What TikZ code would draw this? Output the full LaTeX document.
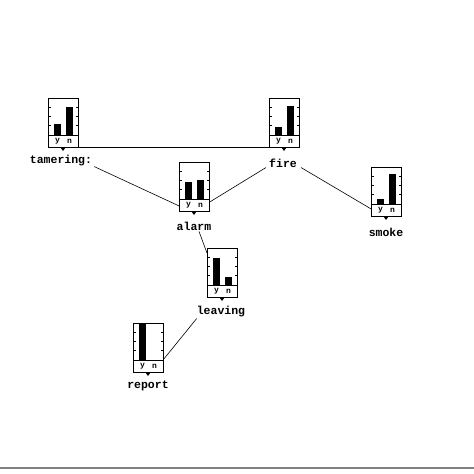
\documentclass[tikz,border=0pt]{standalone}
\usepackage{fontspec}
\newfontfamily\labfont{Liberation Mono}
\usetikzlibrary{calc}
\tikzset{
  bnframe/.style={draw, line width=0.9pt, minimum width=30pt, minimum height=49pt, inner sep=0pt, anchor=north west},
  lab/.style={font=\labfont\bfseries\fontsize{11.5}{11.5}\selectfont, inner sep=1pt},
  yn/.style={font=\labfont\bfseries\fontsize{8}{8}\selectfont, inner sep=0pt},
  link/.style={line width=0.6pt},
  hlink/.style={line width=0.9pt},
}
% #1 name, #2 left, #3 top, #4 y fraction, #5 n fraction
\newcommand\bnbox[5]{%
  \node[bnframe] (#1) at (#2,#3) {};
  \draw[line width=0.9pt] (#2,#3+37) -- (#2+30,#3+37);
  \foreach \k in {1,2,3}{
    \draw[line width=0.6pt] (#2,{#3+37-9.25*\k}) -- ++(2.5,0);
    \draw[line width=0.6pt] (#2+30,{#3+37-9.25*\k}) -- ++(-2.5,0);
  }
  \fill (#2+6,#3+37) rectangle (#2+13,{#3+37-36*#4});
  \fill (#2+18,#3+37) rectangle (#2+25,{#3+37-36*#5});
  \node[yn] (#1y) at (#2+9.5,#3+43) {y};
  \node[yn] (#1n) at (#2+21.5,#3+43) {n};
  \fill (#2+12.5,#3+49.5) -- (#2+17.5,#3+49.5) -- (#2+15,#3+53) -- cycle;
}
\begin{document}
\begin{tikzpicture}[x=1pt,y=-1pt]
\useasboundingbox (0,0) rectangle (474,474);
\fill[white] (0,0) rectangle (474,474);

\bnbox{tam}{48}{98}{0.30}{0.77}
\bnbox{fire}{269}{98}{0.22}{0.80}
\bnbox{alarm}{179}{162}{0.46}{0.54}
\bnbox{smoke}{371}{167}{0.14}{0.83}
\bnbox{leave}{207}{248}{0.74}{0.22}
\bnbox{report}{133}{323}{1.0}{0.0}

\node[lab] (tamL) at (61,161) {tamering:};
\node[lab] (fireL) at (283,163) {fire};
\node[lab] (alarmL) at (194,226) {alarm};
\node[lab] (smokeL) at (386,232) {smoke};
\node[lab] (leaveL) at (221,312) {leaving};
\node[lab] (reportL) at (148,386) {report};

\draw[hlink] (tam.south east) -- (fire.south west);
\draw[link] ($(tamL.south east)+(1,-1)$) -- ($(alarm.south west)+(0,-6)$);
\draw[link] ($(fireL.south west)+(-2,-1)$) -- ($(alarm.south east)+(0,-10)$);
\draw[link] ($(fireL.south east)+(3,-1)$) -- ($(smoke.south west)+(0,-8)$);
\draw[link] ($(alarmL.south)+(5,0)$) -- ($(leave.north west)+(0,5)$);
\draw[link] ($(leaveL.south west)+(1,0)$) -- ($(report.south east)+(0,-14)$);

\coordinate (bl) at (0,468);
\coordinate (br) at (474,468);
\draw[line width=2pt, gray] (bl) -- (br);
\end{tikzpicture}
\end{document}
